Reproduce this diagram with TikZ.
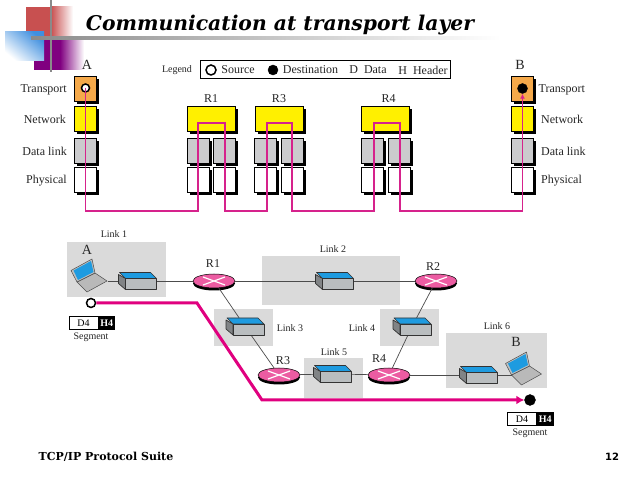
\documentclass[tikz,border=0pt]{standalone}
\usepackage{fontspec}
\setmainfont{Liberation Serif}
\newfontfamily\titlefont{DejaVu Serif}
\newfontfamily\pagefont{DejaVu Sans}
\usepackage{tikz}
\usetikzlibrary{shapes.geometric, shadows, arrows.meta, positioning}
\definecolor{pinkline}{HTML}{D6228C}
\definecolor{pinkbold}{HTML}{E0007F}
\definecolor{orangebox}{HTML}{F5A94A}
\definecolor{yellowbox}{HTML}{FFF000}
\definecolor{greybox}{HTML}{CBCBCD}
\definecolor{areagrey}{HTML}{DADADA}
\definecolor{swblue}{HTML}{1E9BE0}
\definecolor{swgrey}{HTML}{B9BDBF}
\definecolor{routerpink}{HTML}{EC5CA2}
\definecolor{decored}{HTML}{C85050}
\definecolor{decopurple}{HTML}{800080}
\definecolor{decoblue}{HTML}{3F8FDF}
\definecolor{decogrey}{HTML}{8A8A8A}
\newcommand{\switchfaces}[1]{
  \draw[swface, fill=swblue, shift={(#1.center)}] (-18,-8.5) -- (13,-8.5) -- (19,-2.5) -- (-12,-2.5) -- cycle;
  \draw[swface, fill=swgrey!70!black, shift={(#1.center)}] (-19,-6.5) -- (-12,-2.5) -- (-12,8.5) -- (-19,2.5) -- cycle;
  \draw[swface, fill=swgrey, shift={(#1.center)}] (-12,-2.5) rectangle (19,8.5);
}
\newcommand{\laptopfaces}[1]{
  \draw[lapface, fill=gray!55, shift={(#1.center)}] (-12.5,6.5) -- (5.5,-2.5) -- (17.5,5.5) -- (-2.5,16.5) -- cycle;
  \draw[lapface, fill=gray!50, shift={(#1.center)}] (-18.5,-5) -- (2.5,-16.5) -- (5.5,-2.5) -- (-12.5,6.5) -- cycle;
  \fill[swblue, shift={(#1.center)}] (-16,-5) -- (1.5,-14.5) -- (4,-3.5) -- (-11.5,4.5) -- cycle;
}
\begin{document}
\begin{tikzpicture}[x=1pt, y=-1pt, node distance=5pt, auto]
\tikzset{
    every label/.style={inner sep=0pt, font=\fontsize{12}{12}\selectfont, text=black!85},
    layerbox/.style={rectangle, draw=black, line width=1pt, minimum width=22pt, minimum height=25pt, inner sep=0pt, drop shadow={shadow xshift=2.5pt, shadow yshift=-2.5pt, opacity=1, fill=black}},
    transbox/.style={layerbox, fill=orangebox},
    netbox/.style={layerbox, fill=yellowbox},
    linkbox/.style={layerbox, fill=greybox},
    physbox/.style={layerbox, fill=white},
    hopbox/.style={netbox, minimum width=48pt},
    leftname/.style={xshift=-6.5pt},
    rightname/.style={xshift=7.5pt},
    hopname/.style={yshift=4pt},
    txt/.style={inner sep=0pt, font=\fontsize{10}{10}\selectfont, text=black!85},
    bigtxt/.style={inner sep=0pt, font=\fontsize{12}{12}\selectfont, text=black!85},
    hosttxt/.style={inner sep=0pt, font=\fontsize{14}{14}\selectfont, text=black!85},
    ringdot/.style={circle, draw=black, line width=1.5pt, fill=white, minimum size=8pt, inner sep=0pt},
    soliddot/.style={circle, draw=black, fill=black, minimum size=10pt, inner sep=0pt},
    pinkpath/.style={draw=pinkline, line width=1.3pt, >={Latex[length=5pt,width=5pt]}},
    boldpath/.style={draw=pinkbold, line width=3pt, >={Latex[length=8pt,width=9pt]}},
    swbox/.style={rectangle, minimum width=38pt, minimum height=17pt, inner sep=0pt},
    swface/.style={draw=black!80, line width=0.7pt, line join=round},
    lapbox/.style={rectangle, minimum width=36pt, minimum height=33pt, inner sep=0pt},
    lapface/.style={draw=gray!60!black, line width=0.5pt, line join=round},
    router/.style={ellipse, draw=black, fill=routerpink, line width=0.5pt, minimum width=42pt, minimum height=14pt, inner sep=0pt, drop shadow={shadow xshift=0pt, shadow yshift=-2.5pt, opacity=1, fill=black}, path picture={\draw[white, line width=1.2pt, shift={(path picture bounding box.center)}] (-11,-4) -- (11,4) (-11,4) -- (11,-4);}},
    wire/.style={draw=black!70, line width=0.7pt},
    segdata/.style={rectangle, draw=black, fill=white, line width=0.8pt, minimum width=29pt, minimum height=13pt, inner sep=0pt, font=\fontsize{10}{10}\selectfont},
    seghead/.style={rectangle, draw=black, fill=black, text=white, line width=0.8pt, minimum width=16pt, minimum height=13pt, inner sep=0pt, font=\fontsize{10}{10}\selectfont\bfseries}
}
\fill[white] (0,0) rectangle (638,478);
\useasboundingbox (0,0) rectangle (638,478);
\fill[decored] (26,7) rectangle (51,38);
\shade[left color=decored, right color=white] (51,7) rectangle (73,38);
\fill[decopurple] (34,38) rectangle (60,70);
\shade[left color=decopurple, right color=white] (60,38) rectangle (84,70);
\shade[top color=decoblue, bottom color=white, shading angle=-40] (5,32) rectangle (44,61);
\fill[decogrey] (49.5,0) rectangle (52,72);
\shade[left color=decogrey, right color=white] (31,36.5) rectangle (500,39.5);
\node[inner sep=0pt, font=\titlefont\fontsize{20.3}{20.3}\selectfont\bfseries\itshape] (title) at (280,25) {Communication at transport layer};
\node[inner sep=0pt, font=\titlefont\fontsize{11}{11}\selectfont\bfseries] (footer) at (106,457) {TCP/IP Protocol Suite};
\node[inner sep=0pt, font=\pagefont\fontsize{10}{10}\selectfont\bfseries] (pagenum) at (612,457) {12};
\node[hosttxt] (hostA) at (87,65) {A};
\node[hosttxt] (hostB) at (520,65) {B};
\node[txt] (legend) at (177,70) {Legend};
\node[rectangle, draw=black, line width=0.8pt, minimum width=250pt, minimum height=18pt, inner sep=0pt] (legendbox) at (325,69) {};
\node[ringdot, minimum size=10pt] (legsrc) at (211,70) {};
\node[bigtxt] (legsrctxt) at (238,70) {Source};
\node[soliddot] (legdst) at (273,70) {};
\node[bigtxt] (legdsttxt) at (310.5,70) {Destination};
\node[bigtxt] (legdata) at (368,70) {D\ \ Data};
\node[bigtxt] (leghead) at (423,70) {H\ \ Header};
\node[transbox, label={[leftname]left:Transport}] (aT) at (85,89.5) {};
\node[netbox, below=4pt of aT, label={[leftname, xshift=-1pt]left:Network}] (aN) {};
\node[linkbox, below=6pt of aN, label={[leftname]left:Data link}] (aD) {};
\node[physbox, below=3pt of aD, label={[leftname]left:Physical}] (aP) {};
\node[transbox, label={[rightname, xshift=-2.5pt]right:Transport}] (bT) at (522,89.5) {};
\node[netbox, below=4pt of bT, label={[rightname]right:Network}] (bN) {};
\node[linkbox, below=6pt of bN, label={[rightname]right:Data link}] (bD) {};
\node[physbox, below=3pt of bD, label={[rightname]right:Physical}] (bP) {};
\node[hopbox, label={[hopname]above:R1}] (r1N) at (211,119.5) {};
\node[hopbox, label={[hopname]above:R3}] (r3N) at (279,119.5) {};
\node[hopbox, label={[hopname, xshift=3pt]above:R4}] (r4N) at (385.5,119.5) {};
\foreach \hop/\xa/\xb in {r1/198/224, r3/265.5/292, r4/372/399.5} {
  \node[linkbox] (\hop Da) at (\xa,151.5) {};
  \node[linkbox] (\hop Db) at (\xb,151.5) {};
  \node[physbox] (\hop Pa) at (\xa,180.5) {};
  \node[physbox] (\hop Pb) at (\xb,180.5) {};
}
\node[ringdot] (aSrc) at (85.5,88) {};
\node[soliddot] (bDst) at (522.5,88.5) {};
\coordinate (low) at (0,211);
\coordinate (r1in) at (198,123);
\coordinate (r1out) at (225,123);
\coordinate (r3in) at (267,123);
\coordinate (r3out) at (292,123);
\coordinate (r4in) at (374,123);
\coordinate (r4out) at (400,123);
\draw[pinkpath, ->] (aSrc.center) -- (aSrc.center |- low) -- (r1in |- low) -- (r1in) -- (r1out) -- (r1out |- low) -- (r3in |- low) -- (r3in) -- (r3out) -- (r3out |- low) -- (r4in |- low) -- (r4in) -- (r4out) -- (r4out |- low) -- (bDst |- low) -- (bDst);
\fill[areagrey] (67,242) rectangle (166,297);
\fill[areagrey] (262,256) rectangle (400,305);
\fill[areagrey] (214,309) rectangle (273,346);
\fill[areagrey] (380,309) rectangle (439,346);
\fill[areagrey] (304,358) rectangle (363,398);
\fill[areagrey] (446,333) rectangle (547,388);
\node[txt] (link1) at (114,234) {Link 1};
\node[txt] (link2) at (333,249) {Link 2};
\node[txt] (link3) at (290,328) {Link 3};
\node[txt] (link4) at (362,328) {Link 4};
\node[txt] (link5) at (334,352) {Link 5};
\node[txt] (link6) at (497,326) {Link 6};
\node[bigtxt] (nameR1) at (213,264) {R1};
\node[bigtxt] (nameR2) at (433,267) {R2};
\node[bigtxt] (nameR3) at (283,361) {R3};
\node[bigtxt] (nameR4) at (379,359) {R4};
\node[hosttxt] (nameA) at (87,250) {A};
\node[hosttxt] (nameB) at (516,342) {B};
\node[lapbox] (lapA) at (89.5,275.5) {};
\node[lapbox] (lapB) at (524,368.5) {};
\node[swbox] (sw1) at (137.5,281) {};
\node[swbox] (sw2) at (334.5,281) {};
\node[swbox] (sw3) at (245,326.5) {};
\node[swbox] (sw4) at (412,326.5) {};
\node[swbox] (sw5) at (332.5,374) {};
\node[swbox] (sw6) at (478.5,375) {};
\node[router] (r1) at (214,281) {};
\node[router] (r2) at (436,281) {};
\node[router] (r3) at (279,375) {};
\node[router] (r4) at (389,375) {};
\draw[wire] (lapA.east |- sw1) -- (sw1);
\draw[wire] (sw1) -- (r1);
\draw[wire] (r1) -- (sw2);
\draw[wire] (sw2) -- (r2);
\draw[wire] (r1) -- (sw3);
\draw[wire] (sw3) -- (r3);
\draw[wire] (r3) -- (sw5);
\draw[wire] (sw5) -- (r4);
\draw[wire] (r4) -- (sw4);
\draw[wire] (sw4) -- (r2);
\draw[wire] (r4) -- (sw6);
\draw[wire] (sw6) -- (lapB.center |- sw6);
\foreach \sw in {sw1, sw2, sw3, sw4, sw5, sw6} {\switchfaces{\sw}}
\foreach \lap in {lapA, lapB} {\laptopfaces{\lap}}
\node[ringdot, minimum size=9pt] (aSeg) at (91,303) {};
\node[soliddot, minimum size=11pt] (bSeg) at (530,400) {};
\coordinate (bendA) at (197,303);
\coordinate (bendB) at (262,400);
\draw[boldpath, ->] (aSeg) -- (bendA) -- (bendB) -- (bSeg);
\node[segdata] (d4A) at (83.5,323) {D4};
\node[seghead, right=0pt of d4A] (h4A) {H4};
\node[txt] (segA) at (91,337) {Segment};
\node[segdata] (d4B) at (522,419) {D4};
\node[seghead, right=0pt of d4B] (h4B) {H4};
\node[txt] (segB) at (530,433) {Segment};
\end{tikzpicture}
\end{document}
